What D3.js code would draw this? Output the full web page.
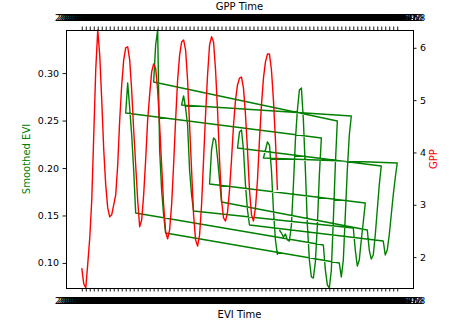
<!DOCTYPE html>
<html>
<head>
<meta charset="utf-8">
<script src="https://cdn.jsdelivr.net/npm/d3@7"></script>
<style>
  body { margin: 0; background: #fff; }
  svg text { font-family: "DejaVu Sans", sans-serif; }
</style>
</head>
<body>
<script>
// GPP, one value per GPP date (top axis / right axis)
const gppValues = [
  1.79,1.49,1.41,1.87,2.37,3.09,4.33,5.58,6.34,5.86,
  5.00,4.05,3.38,2.94,2.77,2.81,3.00,3.19,3.76,4.62,
  5.29,5.77,6.00,6.02,5.77,5.19,4.43,3.76,3.09,2.58,
  2.71,3.19,3.86,4.62,5.10,5.54,5.69,5.61,5.19,4.52,
  3.76,3.00,2.48,2.35,2.52,3.00,3.76,4.62,5.38,5.86,
  6.11,6.15,5.96,5.38,4.52,3.66,2.81,2.33,2.21,2.42,
  3.00,3.86,4.72,5.48,6.05,6.21,6.11,5.58,4.81,3.86,
  3.09,2.75,2.69,2.86,3.28,3.86,4.52,5.00,5.29,5.42,
  5.44,5.23,4.72,4.05,3.28,2.81,2.69,2.94,3.47,4.24,
  4.91,5.42,5.73,5.88,5.88,5.58,5.00,4.24,3.28
];

// tick labels: GPP dates come first on the shared category axis,
// EVI dates that are not GPP dates get appended after them
const fmt = d3.utcFormat('%Y-%m-%d');
const gppDates = d3.utcDay.range(new Date(Date.UTC(2019, 0, 1)), new Date(Date.UTC(2019, 0, 1 + 99 * 8)), 8).map(fmt);
const eviOnlyDates = d3.utcDay.range(new Date(Date.UTC(2021, 2, 3)), new Date(Date.UTC(2021, 2, 3 + 60 * 8)), 8).map(fmt);
const categories = gppDates.concat(eviOnlyDates);

// EVI in time order: runs of category positions it lands on
const eviRuns = [[99,120],[22,27],[121,128],[36,42],[129,135],[50,56],
                 [136,142],[64,70],[143,150],[78,84],[151,158],[91,98]];
const eviValues = [
  0.1347,0.1315,0.1273,0.1305,0.1242,0.1231,0.1400,0.1821,0.2295,0.2611,0.2822,
  0.2843,0.2506,0.1979,0.1400,0.1031,0.0852,0.0841,0.1010,0.1400,0.1926,0.2316,
  0.2580,0.2896,0.2632,0.2348,0.1979,0.1526,
  0.1189,0.0926,0.0768,0.0736,0.0926,0.1452,0.2032,0.2495,
  0.2906,0.3296,0.3454,0.2190,0.1768,0.1505,0.1315,
  0.0999,0.0852,0.1031,0.1505,0.1979,0.2348,0.2548,
  0.2664,0.2759,0.2632,0.2453,0.1979,0.1716,0.1547,
  0.1368,0.1136,0.0968,0.1031,0.1242,0.1431,0.1631,
  0.1832,0.2190,0.2316,0.2295,0.2106,0.1874,0.1642,
  0.1347,0.1136,0.1041,0.1084,0.1294,0.1558,0.1821,0.2021,
  0.2211,0.2379,0.2400,0.2190,0.1821,0.1558,0.1400,
  0.1231,0.1084,0.1136,0.1294,0.1505,0.1716,0.1895,0.2053,
  0.2106,0.2190,0.2274,0.2242,0.1979,0.1558,0.1242,0.1084
];
const eviDates = eviRuns.flatMap(([a, b]) => d3.range(a, b + 1).map(i => categories[i]));

const eviTicks = [0.10, 0.15, 0.20, 0.25, 0.30];
const gppTicks = [2, 3, 4, 5, 6];

// plot box
const width = 474, height = 330;
const box = {left: 66, right: 413, top: 30, bottom: 288};
const fs = 9.5;

const svg = d3.select('body').append('svg')
    .attr('width', width)
    .attr('height', height);

const x = d3.scalePoint()
    .domain(categories)
    .range([box.left, box.right])
    .padding(0.05 * (categories.length - 1));
const yEvi = d3.scaleLinear().domain(d3.extent(eviValues)).range([box.bottom, box.top]);
const yGpp = d3.scaleLinear().domain(d3.extent(gppValues)).range([box.bottom, box.top]);

// lines
svg.append('path')
    .datum(eviValues.map((v, i) => [eviDates[i], v]))
    .attr('fill', 'none')
    .attr('stroke', 'green')
    .attr('stroke-width', 1.4)
    .attr('stroke-linejoin', 'round')
    .attr('d', d3.line().x(d => x(d[0])).y(d => yEvi(d[1])));

svg.append('path')
    .datum(gppValues.map((v, i) => [gppDates[i], v]))
    .attr('fill', 'none')
    .attr('stroke', 'red')
    .attr('stroke-width', 1.4)
    .attr('stroke-linejoin', 'round')
    .attr('d', d3.line().x(d => x(d[0])).y(d => yGpp(d[1])));

// axes
const tickVals = categories.filter((d, i) => i % 2 === 0);
function style(g) {
    g.select('.domain').remove();
    g.attr('font-size', fs).attr('font-family', null);
    g.selectAll('line').attr('stroke', '#000').attr('stroke-width', 0.9);
    g.selectAll('text').attr('fill', '#000');
}

// tick marks on the category axes, then every date label on its own
svg.append('g')
    .attr('transform', 'translate(0,' + box.bottom + ')')
    .call(d3.axisBottom(x).tickValues(tickVals).tickFormat('').tickSize(3.5))
    .call(style);
svg.append('g')
    .attr('transform', 'translate(0,' + box.bottom + ')')
    .call(d3.axisBottom(x).tickSize(0).tickPadding(9.3))
    .call(style);
svg.append('g')
    .attr('transform', 'translate(0,' + box.top + ')')
    .call(d3.axisTop(x).tickValues(tickVals).tickFormat('').tickSize(3.5))
    .call(style);
svg.append('g')
    .attr('transform', 'translate(0,' + box.top + ')')
    .call(d3.axisTop(x).tickSize(0).tickPadding(9))
    .call(style);

svg.append('g')
    .attr('transform', 'translate(' + box.left + ',0)')
    .call(d3.axisLeft(yEvi).tickValues(eviTicks).tickFormat(d3.format('.2f')).tickSize(3.5).tickPadding(3.5))
    .call(style);
svg.append('g')
    .attr('transform', 'translate(' + box.right + ',0)')
    .call(d3.axisRight(yGpp).tickValues(gppTicks).tickFormat(d3.format('d')).tickSize(3.5).tickPadding(3.5))
    .call(style);

// frame
svg.append('rect')
    .attr('x', box.left + 0.5)
    .attr('y', box.top + 0.5)
    .attr('width', box.right - box.left)
    .attr('height', box.bottom - box.top)
    .attr('fill', 'none')
    .attr('stroke', '#000')
    .attr('stroke-width', 1)
    .attr('shape-rendering', 'crispEdges');

// axis titles
const midX = (box.left + box.right) / 2, midY = (box.top + box.bottom) / 2;
svg.append('text').text('GPP Time')
    .attr('x', midX).attr('y', 10)
    .attr('text-anchor', 'middle').attr('font-size', 10);
svg.append('text').text('EVI Time')
    .attr('x', midX).attr('y', 317.5)
    .attr('text-anchor', 'middle').attr('font-size', 10);
svg.append('text').text('Smoothed EVI')
    .attr('transform', 'translate(30,' + midY + ') rotate(-90)')
    .attr('text-anchor', 'middle').attr('font-size', 10)
    .attr('fill', 'green');
svg.append('text').text('GPP')
    .attr('transform', 'translate(437,' + midY + ') rotate(-90)')
    .attr('text-anchor', 'middle').attr('font-size', 10)
    .attr('fill', 'red');
</script>
</body>
</html>
